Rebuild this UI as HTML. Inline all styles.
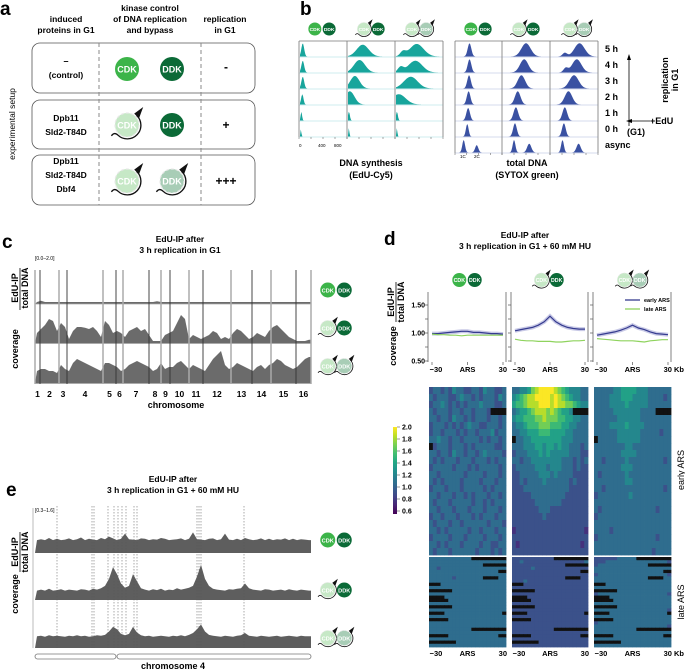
<!DOCTYPE html>
<html><head><meta charset="utf-8">
<style>
html,body{margin:0;padding:0;background:#fff;}
svg{display:block;font-family:"Liberation Sans",sans-serif;}
</style></head>
<body>
<svg id="fig" width="685" height="670" viewBox="0 0 685 670" xmlns="http://www.w3.org/2000/svg">
<g>
  <text x="0" y="15" font-size="19" font-weight="bold">a</text>
  <text x="66" y="22" font-size="8.5" font-weight="bold" text-anchor="middle">induced</text>
  <text x="66" y="33" font-size="8.5" font-weight="bold" text-anchor="middle">proteins in G1</text>
  <text x="150" y="11" font-size="8.5" font-weight="bold" text-anchor="middle">kinase control</text>
  <text x="150" y="22" font-size="8.5" font-weight="bold" text-anchor="middle">of DNA replication</text>
  <text x="150" y="33" font-size="8.5" font-weight="bold" text-anchor="middle">and bypass</text>
  <text x="225" y="22" font-size="8.5" font-weight="bold" text-anchor="middle">replication</text>
  <text x="225" y="33" font-size="8.5" font-weight="bold" text-anchor="middle">in G1</text>
  <text transform="translate(15,124) rotate(-90)" font-size="8.5" text-anchor="middle">experimental setup</text>
  <rect x="32" y="43" width="223" height="50" rx="8" fill="none" stroke="#555" stroke-width="0.8"/>
  <rect x="32" y="100" width="223" height="49" rx="8" fill="none" stroke="#555" stroke-width="0.8"/>
  <rect x="32" y="155" width="223" height="50" rx="8" fill="none" stroke="#555" stroke-width="0.8"/>
  <line x1="99" y1="43" x2="99" y2="205" stroke="#888" stroke-dasharray="4,3"/>
  <line x1="201" y1="43" x2="201" y2="205" stroke="#888" stroke-dasharray="4,3"/>
  <text x="66" y="64" font-size="9" font-weight="bold" text-anchor="middle">–</text>
  <text x="66" y="78" font-size="8.5" font-weight="bold" text-anchor="middle">(control)</text>
  <text x="66" y="121" font-size="8.5" font-weight="bold" text-anchor="middle">Dpb11</text>
  <text x="66" y="135" font-size="8.5" font-weight="bold" text-anchor="middle">Sld2-T84D</text>
  <text x="66" y="164" font-size="8.5" font-weight="bold" text-anchor="middle">Dpb11</text>
  <text x="66" y="178" font-size="8.5" font-weight="bold" text-anchor="middle">Sld2-T84D</text>
  <text x="66" y="192" font-size="8.5" font-weight="bold" text-anchor="middle">Dbf4</text>
  <text x="226" y="71" font-size="12" font-weight="bold" text-anchor="middle">-</text>
  <text x="226" y="129" font-size="12" font-weight="bold" text-anchor="middle">+</text>
  <text x="226" y="185" font-size="12" font-weight="bold" text-anchor="middle">+++</text>
</g>
<g id="icons"></g>
<g id="pb">
  <text x="300" y="15" font-size="19" font-weight="bold">b</text>
  <text x="371" y="166" font-size="9" font-weight="bold" text-anchor="middle">DNA synthesis</text>
  <text x="371" y="178" font-size="9" font-weight="bold" text-anchor="middle">(EdU-Cy5)</text>
  <text x="527" y="166" font-size="9" font-weight="bold" text-anchor="middle">total DNA</text>
  <text x="527" y="178" font-size="9" font-weight="bold" text-anchor="middle">(SYTOX green)</text>
  <text x="299" y="147" font-size="4.5">0</text>
  <text x="318" y="147" font-size="4.5">400</text>
  <text x="334" y="147" font-size="4.5">800</text>
  <text x="460" y="158" font-size="4.5">1C</text>
  <text x="474" y="158" font-size="4.5">2C</text>
  <line x1="629" y1="126" x2="629" y2="58" stroke="#000" stroke-width="0.8"/>
  <polygon points="629,54 627,60 631,60" fill="#000"/>
  <line x1="630" y1="121" x2="650" y2="121" stroke="#000" stroke-width="0.8"/>
  <polygon points="626,121 632,119 632,123" fill="#000"/>
  <text x="650" y="124" font-size="9" font-weight="bold">+EdU</text>
  <text x="627" y="135" font-size="9" font-weight="bold">(G1)</text>
  <text transform="translate(668,80) rotate(-90)" font-size="9" font-weight="bold" text-anchor="middle">replication</text>
  <text transform="translate(678,80) rotate(-90)" font-size="9" font-weight="bold" text-anchor="middle">in G1</text>
</g>
<g id="pc">
  <text x="2" y="248" font-size="19" font-weight="bold">c</text>
  <text x="180" y="242" font-size="8.5" font-weight="bold" text-anchor="middle">EdU-IP after</text>
  <text x="180" y="253" font-size="8.5" font-weight="bold" text-anchor="middle">3 h replication in G1</text>
  <text x="35" y="260" font-size="5">[0.0–2.0]</text>
  <text x="176" y="408" font-size="9" font-weight="bold" text-anchor="middle">chromosome</text>
  <text transform="translate(18,349) rotate(-90)" font-size="9" font-weight="bold" text-anchor="middle">coverage</text>
  <text transform="translate(18,288) rotate(-90)" font-size="9" font-weight="bold" text-anchor="middle">EdU-IP</text>
  <line x1="20" y1="268" x2="20" y2="310" stroke="#000" stroke-width="0.8"/>
  <text transform="translate(28,288) rotate(-90)" font-size="9" font-weight="bold" text-anchor="middle">total DNA</text>
</g>
<g id="pd">
  <text x="384" y="245" font-size="19" font-weight="bold">d</text>
  <text x="525" y="238" font-size="8.5" font-weight="bold" text-anchor="middle">EdU-IP after</text>
  <text x="525" y="249" font-size="8.5" font-weight="bold" text-anchor="middle">3 h replication in G1 + 60 mM HU</text>
  <text transform="translate(396,346) rotate(-90)" font-size="9" font-weight="bold" text-anchor="middle">coverage</text>
  <text transform="translate(394,302) rotate(-90)" font-size="9" font-weight="bold" text-anchor="middle">EdU-IP</text>
  <line x1="396" y1="282" x2="396" y2="322" stroke="#000" stroke-width="0.8"/>
  <text transform="translate(404,302) rotate(-90)" font-size="9" font-weight="bold" text-anchor="middle">total DNA</text>
  <text transform="translate(684,470) rotate(-90)" font-size="9" text-anchor="middle">early ARS</text>
  <text transform="translate(684,602) rotate(-90)" font-size="9" text-anchor="middle">late ARS</text>
</g>
<g id="pe">
  <text x="6" y="496" font-size="19" font-weight="bold">e</text>
  <text x="173" y="482" font-size="8.5" font-weight="bold" text-anchor="middle">EdU-IP after</text>
  <text x="173" y="493" font-size="8.5" font-weight="bold" text-anchor="middle">3 h replication in G1 + 60 mM HU</text>
  <text x="35" y="512" font-size="5">[0.3–1.6]</text>
  <text transform="translate(18,594) rotate(-90)" font-size="9" font-weight="bold" text-anchor="middle">coverage</text>
  <text transform="translate(18,552) rotate(-90)" font-size="9" font-weight="bold" text-anchor="middle">EdU-IP</text>
  <line x1="20" y1="532" x2="20" y2="572" stroke="#000" stroke-width="0.8"/>
  <text transform="translate(28,552) rotate(-90)" font-size="9" font-weight="bold" text-anchor="middle">total DNA</text>
  <rect x="35" y="654" width="81" height="5" rx="2.5" fill="none" stroke="#777" stroke-width="0.8"/>
  <rect x="117" y="654" width="194" height="5" rx="2.5" fill="none" stroke="#777" stroke-width="0.8"/>
  <text x="173" y="669" font-size="9" font-weight="bold" text-anchor="middle">chromosome 4</text>
</g>
</svg>
<script>
// ===== Data =====
const timeLabels = ["5 h","4 h","3 h","2 h","1 h","0 h","async"];
const eduPeaks = [
  [[[0.06,0.03,0.9]],[[0.06,0.03,0.8]],[[0.06,0.03,0.8]],[[0.05,0.025,0.7]],[[0.03,0.015,0.6]],[[0.02,0.01,0.5]]],
  [[[0.32,0.13,0.8]],[[0.25,0.12,0.85]],[[0.15,0.1,0.85]],[[0.04,0.1,0.9]],[[0.02,0.02,0.6]],[[0.02,0.01,0.6]]],
  [[[0.45,0.15,0.85],[0.15,0.06,0.3]],[[0.42,0.15,0.8],[0.1,0.06,0.35]],[[0.32,0.15,0.8]],[[0.06,0.15,0.7]],[[0.02,0.02,0.6]],[[0.02,0.01,0.6]]]
];
const sytoxPeaks = [
  [[[0.3,0.04,0.9]],[[0.3,0.04,0.9]],[[0.29,0.04,0.9]],[[0.28,0.04,0.9]],[[0.27,0.04,0.85]],[[0.25,0.03,0.85]],[[0.17,0.03,0.85],[0.46,0.035,0.5]]],
  [[[0.5,0.1,0.9]],[[0.46,0.09,0.9]],[[0.4,0.08,0.9]],[[0.32,0.06,0.9]],[[0.28,0.05,0.9]],[[0.26,0.04,0.9]],[[0.24,0.03,0.85],[0.57,0.045,0.6]]],
  [[[0.62,0.11,0.9],[0.3,0.05,0.25]],[[0.56,0.1,0.9],[0.32,0.05,0.3]],[[0.5,0.1,0.9]],[[0.38,0.08,0.9]],[[0.3,0.05,0.9]],[[0.28,0.04,0.9]],[[0.25,0.03,0.85],[0.6,0.045,0.6]]]
];
const cRow1 = [0.05,0.08,0.05,0.05,0.05,0.05,0.05,0.05,0.05,0.05,0.05,0.05,0.05,0.05,0.05,0.05,0.05,0.05,0.05,0.05,0.05,0.05,0.05,0.05,0.05,0.05,0.05,0.05,0.05,0.05,0.07,0.05,0.05,0.05,0.05,0.05,0.05,0.05,0.05,0.05,0.05,0.05,0.05,0.05,0.05,0.05,0.05,0.05,0.05,0.05,0.05,0.05,0.05,0.05,0.05,0.05,0.05,0.05,0.05,0.05,0.05,0.05,0.05,0.05,0.05,0.05,0.05,0.05,0.05];
const cRow2 = [0.25,0.35,0.45,0.6,0.55,0.3,0.5,0.4,0.1,0.3,0.4,0.4,0.38,0.35,0.4,0.3,0.15,0.55,0.45,0.25,0.3,0.25,0.15,0.3,0.35,0.4,0.3,0.35,0.2,0.05,0.05,0.05,0.2,0.25,0.3,0.5,0.7,0.6,0.1,0.2,0.15,0.1,0.15,0.2,0.3,0.25,0.1,0.15,0.1,0.25,0.35,0.3,0.2,0.1,0.15,0.25,0.2,0.15,0.3,0.4,0.45,0.35,0.25,0.15,0.1,0.05,0.05,0.05,0.08];
const cRow3 = [0.3,0.35,0.35,0.3,0.3,0.25,0.45,0.35,0.3,0.5,0.6,0.55,0.5,0.45,0.4,0.35,0.3,0.5,0.5,0.45,0.4,0.3,0.35,0.45,0.5,0.55,0.5,0.45,0.4,0.3,0.35,0.5,0.35,0.4,0.4,0.5,0.55,0.45,0.35,0.45,0.4,0.35,0.3,0.45,0.6,0.7,0.8,0.45,0.35,0.4,0.5,0.45,0.4,0.35,0.3,0.4,0.45,0.35,0.45,0.5,0.6,0.55,0.45,0.4,0.35,0.4,0.5,0.6,0.65];
const chromBounds = [35,40,59,67,103,116,123,149,161,170,189,203,231,252,271,296,311];
const chromNames = ["1","2","3","4","5","6","7","8","9","10","11","12","13","14","15","16"];
const profX = [-30,-25,-20,-15,-10,-5,0,5,10,15,20,25,30];
const earlyARS = [
  [0.99,0.99,1.0,1.01,1.02,1.03,1.03,1.01,1.01,1.0,0.99,0.99,0.98],
  [1.04,1.06,1.08,1.1,1.14,1.2,1.3,1.2,1.14,1.1,1.08,1.07,1.07],
  [0.96,0.98,1.0,1.02,1.05,1.09,1.14,1.09,1.06,1.02,0.99,0.98,0.97]
];
const lateARS = [
  [0.98,0.97,0.97,0.96,0.96,0.95,0.96,0.96,0.96,0.96,0.96,0.96,0.96],
  [0.89,0.87,0.86,0.86,0.85,0.85,0.85,0.84,0.84,0.85,0.86,0.86,0.87],
  [0.9,0.89,0.88,0.87,0.86,0.86,0.86,0.85,0.84,0.86,0.87,0.88,0.88]
];
const yTicks = [0.5,1.0,1.5];
const cbTicks = [2.0,1.8,1.6,1.4,1.2,1.0,0.8,0.6];
// Heatmaps: digit d -> 0.6 + d*0.155 ; x = missing (black)
const heatEarly = [
 ["23323243322332433223","32333223433232333243","23343232323334333223","3233323323323332xxxx","33233243323233323323","23332323234332233323","23323332323323334233","33433233233332323323","x2333233323233333223","33233243323323433332","32323332333233323233","23333323332323333323","33233333323333233323","32323333233332333233","23332333233333232333","33233323323233323323","32333233333233232333","33233323332333233323","23323332333232333233","32333233233333323332","33232333332332333233","23333233323333233323","33232333233332332233","32333233333323332323"],
 ["33445789999876544433","45678899998987654433","56678889998988776544","3455678887876554xxxx","45566677877766554433","34456667776665544333","33445556665555443333","x3344555555554443333","33344455455454433323","23334445454444433322","33233444444443332323","23333344434443332322","22333334443433332222","22323333433333323222","22233333333333322222","22222333333333222222","22222233333332222222","22222223332222222222","22222222322222222222","22222222222222222222","12222222222222222221","22222222222222222222","21222222222222222212","22222222222222222222"],
 ["33333445555444333333","33334445554444333323","33334444544444333333","3333344444443333xxxx","33333344444433333333","33334444544443333333","33333344444433333233","x3333344444433333333","33333333443333333333","33333334444333333333","33233333433333333323","33333334443333333333","32333333433333333333","33333333443333333333","33233333333333333323","23333333343333333333","33333333333333333333","32333333333333332333","23333333333333333333","33333333333333333333","33332333333333333333","23333333333333332333","33333333333333333333","33333333333333323333"]
];
const heatLate = [
 ["33333333333xxxxxxxxx","33333333333333333333","33333333333333xxxxxx","33233333333333333333","333333333333333333xx","33333333333333333333","33333323333333xxxx33","33333333333333333333","xxx33333333333333333","33333333333333333333","xxxxxx33333333333333","33333333333333333333","xxxx3333333333333333","xxxxx333333333333333","33333333333333333333","xxxxxx33333333333333","33333333333333333333","xxxx333333333333333x","33333333333333333333","xxxxx333333333333333","33333333333333333333","33333333333333333333","33333333333xxxxxxxxx","33333333333333333333","xxxxx3333333333333xx","33333333333333333333","xxxxxxx3333333333333","33333333333333333333"],
 ["22222222222xxxxxxxxx","22322222222222222223","22222222222222xxxxxx","22222322222222222222","222222222222222222xx","22222222222222222222","22222222222222xxxx22","22232222222222222222","xxx22222222222222222","22222222222222222222","xxxxxx22222222222222","22222222222222222222","xxxx2222222222222222","xxxxx222222222222222","22222222222222222222","xxxxxx22222222222222","22222222222222222222","xxxx222222222222222x","22222222222222222222","xxxxx222222222222222","22222222222222222222","22222222222222222222","22222222222xxxxxxxxx","22222222222222222222","xxxxx2222222222222xx","22222222222222222222","xxxxxxx2222222222222","22222222222222222222"],
 ["22222233333xxxxxxxxx","22233333333333333332","23333333333333xxxxxx","33333333333333333333","333333333333333333xx","23333333333333333332","33333333333333xxxx33","33333333333333333333","xxx33333333333333333","33333333333333333333","xxxxxx33333333333333","23333333333333333332","xxxx3333333333333333","xxxxx333333333333333","33333333333333333333","xxxxxx33333333333333","33333333333333333332","xxxx333333333333333x","33333333333333333333","xxxxx333333333333333","23333333333333333333","33333333333333333332","33333333333xxxxxxxxx","33333333333333333333","xxxxx3333333333333xx","33333333333333333333","xxxxxxx3333333333333","33333333333333333333"]
];
const eRow1 = [0.3,0.32,0.3,0.35,0.3,0.33,0.3,0.31,0.34,0.3,0.32,0.36,0.3,0.33,0.31,0.3,0.35,0.32,0.38,0.34,0.3,0.33,0.45,0.32,0.31,0.3,0.34,0.33,0.3,0.32,0.31,0.35,0.33,0.3,0.31,0.32,0.34,0.3,0.33,0.48,0.32,0.31,0.3,0.33,0.34,0.3,0.32,0.45,0.31,0.3,0.33,0.3,0.35,0.32,0.3,0.31,0.34,0.3,0.33,0.3,0.32,0.31,0.34,0.3,0.33,0.3,0.32,0.31,0.3];
const eRow2 = [0.2,0.22,0.2,0.24,0.2,0.21,0.23,0.2,0.22,0.21,0.2,0.23,0.22,0.2,0.24,0.22,0.25,0.3,0.45,0.7,0.55,0.35,0.26,0.3,0.55,0.4,0.25,0.22,0.2,0.23,0.21,0.24,0.2,0.22,0.21,0.25,0.22,0.24,0.26,0.3,0.5,0.75,0.45,0.3,0.24,0.22,0.21,0.2,0.23,0.22,0.24,0.25,0.35,0.25,0.22,0.21,0.2,0.23,0.22,0.2,0.21,0.22,0.2,0.23,0.21,0.2,0.22,0.21,0.2];
const eRow3 = [0.25,0.26,0.24,0.27,0.25,0.26,0.25,0.24,0.26,0.25,0.27,0.25,0.26,0.24,0.25,0.27,0.26,0.28,0.35,0.45,0.4,0.3,0.27,0.3,0.45,0.33,0.27,0.25,0.26,0.24,0.25,0.26,0.25,0.24,0.26,0.25,0.27,0.25,0.28,0.32,0.4,0.5,0.35,0.28,0.26,0.25,0.24,0.26,0.25,0.24,0.26,0.27,0.32,0.26,0.25,0.24,0.26,0.25,0.24,0.25,0.26,0.24,0.25,0.26,0.25,0.24,0.26,0.25,0.25];
const eOrigins = [57,92,94,108,114,118,122,126,134,137,197,199,201,244];

// ===== Helpers =====
const NS = "http://www.w3.org/2000/svg";
const svg = document.getElementById("fig");
function mk(tag, attrs, parent){
  const e = document.createElementNS(NS, tag);
  for (const k in attrs) e.setAttribute(k, attrs[k]);
  (parent||svg).appendChild(e);
  return e;
}
const iconsG = document.getElementById("icons");
function circleIcon(cx, cy, r, label, kind){
  const fills = {cdk:"#3cb449", ddk:"#0b6a37", cdkB:"#c6e8c6", ddkB:"#a8cdb6"};
  const g = mk("g", {}, iconsG);
  
  
  const bypass = kind.endsWith("B");
  mk("circle", {cx:cx, cy:cy, r:r, fill:fills[kind], stroke: bypass?"#e8e8e8":"none", "stroke-width": r/10, "stroke-dasharray": bypass? (r/4)+","+(r/6):"none"}, g);
  const t = mk("text", {x:cx, y:cy + r*0.3, "font-size": r*0.75, "font-weight":"bold", fill:"#fff", "text-anchor":"middle"}, g);
  t.textContent = label;
  if (bypass){
    const sx = cx - r*0.75, sy = cy + r*0.85;
    const ex = cx + r*0.8, ey = cy - r*0.8;
    mk("path", {d:`M${sx-r*0.55},${sy+r*0.05} q${r*0.25},${-r*0.35} ${r*0.55},${-r*0.05} A${r*1.12},${r*1.12} 0 1 0 ${ex},${ey}`, fill:"none", stroke:"#111", "stroke-width": Math.max(0.8,r/9)}, g);
    mk("polygon", {points:`${ex+r*0.55},${ey-r*0.7} ${ex-r*0.2},${ey-r*0.15} ${ex+r*0.2},${ey+r*0.25}`, fill:"#111"}, g);
  }
}
function pair(cx, cy, r, kindC, kindD){
  circleIcon(cx - r*1.1, cy, r, "CDK", kindC);
  circleIcon(cx + r*1.1, cy, r, "DDK", kindD);
}
circleIcon(127,69,12,"CDK","cdk"); circleIcon(172,69,12,"DDK","ddk");
circleIcon(127,125,12,"CDK","cdkB"); circleIcon(172,125,12,"DDK","ddk");
circleIcon(127,181,12,"CDK","cdkB"); circleIcon(172,181,12,"DDK","ddkB");
const kinds = [["cdk","ddk"],["cdkB","ddk"],["cdkB","ddkB"]];
[322,371,419].forEach((x,i)=>pair(x,29,6.5,kinds[i][0],kinds[i][1]));
[478,526,577].forEach((x,i)=>pair(x,29,6.5,kinds[i][0],kinds[i][1]));
[290,328,366].forEach((y,i)=>pair(336,y,7.5,kinds[i][0],kinds[i][1]));
[467,549,632].forEach((x,i)=>pair(x,280,7,kinds[i][0],kinds[i][1]));
[540,590,638].forEach((y,i)=>pair(336,y,7.5,kinds[i][0],kinds[i][1]));

// ===== Panel b =====
const pb = document.getElementById("pb");
function histPath(x0, w, yBase, h, peaks){
  let d = `M${x0},${yBase}`;
  const n = 60;
  for (let i=0;i<=n;i++){
    const f = i/n; let v = 0;
    peaks.forEach(p=>{ v += p[2]*Math.exp(-0.5*Math.pow((f-p[0])/p[1],2)); });
    v = Math.min(v,1);
    d += ` L${(x0+f*w).toFixed(2)},${(yBase - v*h).toFixed(2)}`;
  }
  return d + ` L${x0+w},${yBase} Z`;
}
function flowGroup(cols, top, rowH, data, color, sep, nameBase){
  const nRows = data[0].length;
  const g = mk("g", {}, pb);
  
  
  for (let c=0;c<cols.length-1;c++){
    const x0 = cols[c], w = cols[c+1]-cols[c];
    for (let r=0;r<nRows;r++){
      const yb = top + (r+1)*rowH;
      const p = mk("path", {d: histPath(x0+1, w-2, yb-0.5, rowH*0.92, data[c][r]), fill: color}, g);
      
      
      mk("line", {x1:x0, x2:x0+w, y1:yb, y2:yb, stroke:sep, "stroke-width":0.8}, g);
    }
    mk("line", {x1:x0, x2:x0, y1:top, y2:top+nRows*rowH, stroke:"#777", "stroke-width":0.8}, g);
  }
  const xe = cols[cols.length-1];
  mk("line", {x1:xe, x2:xe, y1:top, y2:top+nRows*rowH, stroke:"#777", "stroke-width":0.8}, g);
  mk("line", {x1:cols[0], x2:xe, y1:top, y2:top, stroke:"#777", "stroke-width":0.8}, g);
  for (let c=0;c<cols.length-1;c++){
    for (let k=0;k<=4;k++){
      const x = cols[c] + k*(cols[c+1]-cols[c])/4;
      mk("line", {x1:x, x2:x, y1:top+nRows*rowH, y2:top+nRows*rowH+2, stroke:"#555", "stroke-width":0.5}, g);
    }
  }
}
flowGroup([299,347,395,443], 41, 16, eduPeaks, "#17a59c", "#bfe6ea", "edu-flow");
flowGroup([455,502,550,598], 41, 16, sytoxPeaks, "#3a51a2", "#c9cfe6", "sytox-flow");
timeLabels.forEach((t,i)=>{
  const e = mk("text", {x:605, y:41+16*i+11, "font-size":9, "font-weight":"bold"}, pb);
  e.textContent = t;
});

// ===== Panel c =====
const pc = document.getElementById("pc");
function areaTrack(parent, vals, x0, x1, yBase, h, color, name){
  const bw = (x1-x0)/vals.length;
  let d = `M${x0},${yBase}`;
  vals.forEach((v,i)=>{
    const y = yBase - v*h;
    d += ` L${(x0+(i+0.5)*bw).toFixed(2)},${y.toFixed(2)}`;
  });
  d += ` L${x1},${(yBase - vals[vals.length-1]*h).toFixed(2)} L${x1},${yBase} Z`;
  const p = mk("path", {d:d, fill:color}, parent);
  
  
}
areaTrack(pc, cRow1, 35, 311, 304, 40, "#6b6b6b", "coverage-track-control");
areaTrack(pc, cRow2, 35, 311, 343, 40, "#6b6b6b", "coverage-track-cdk-bypass");
areaTrack(pc, cRow3, 35, 311, 383, 40, "#6b6b6b", "coverage-track-cdk-ddk-bypass");
mk("line", {x1:35,x2:311,y1:304,y2:304,stroke:"#aaa","stroke-width":0.8}, pc);
mk("line", {x1:35,x2:311,y1:343.5,y2:343.5,stroke:"#aaa","stroke-width":1}, pc);
mk("line", {x1:35,x2:311,y1:383.5,y2:383.5,stroke:"#aaa","stroke-width":1}, pc);
chromBounds.forEach((x,i)=>{
  mk("line", {x1:x, x2:x, y1:270, y2:384, stroke: i%2? "#333":"#aaa", "stroke-width": i%2?0.9:1.5}, pc);
});
chromNames.forEach((n,i)=>{
  const cx = (chromBounds[i]+chromBounds[i+1])/2;
  const t = mk("text", {x:cx, y:397, "font-size":8.5, "font-weight":"bold", "text-anchor":"middle"}, pc);
  t.textContent = n;
});

// ===== Panel d =====
const pd = document.getElementById("pd");
const dPanels = [[429,506],[512,588],[594,671]];
const yScale = v => 333 - (v-1.0)*56;
const xScale = (i, x0, x1) => x0 + (profX[i]-profX[0])/(profX[profX.length-1]-profX[0])*(x1-x0);
yTicks.forEach(v=>{
  const t = mk("text", {x:425, y:yScale(v)+2.5, "font-size":7, "font-weight":"bold", "text-anchor":"end"}, pd);
  t.textContent = v.toFixed(2);
});
dPanels.forEach(([x0,x1],pi)=>{
  mk("line", {x1:x0-1, x2:x0-1, y1:292, y2:362, stroke:"#aaa", "stroke-width":1.5}, pd);
  mk("line", {x1:x1, x2:x1, y1:292, y2:362, stroke:"#aaa", "stroke-width":1.5}, pd);
  [0.5,0.75,1.0,1.25,1.5].forEach(v=> mk("line", {x1:x0-4,x2:x0-1,y1:yScale(v),y2:yScale(v),stroke:"#555","stroke-width":0.7}, pd));
  [0,6,12].forEach(i=> mk("line", {x1:xScale(i,x0+3,x1-3),x2:xScale(i,x0+3,x1-3),y1:362,y2:365,stroke:"#555","stroke-width":0.7}, pd));
  const mkLine = (arr, col, w, name)=>{
    const pts = arr.map((v,i)=> `${xScale(i,x0+3,x1-3).toFixed(1)},${yScale(v).toFixed(1)}`).join(" ");
    const pl = mk("polyline", {points:pts, fill:"none", stroke:col, "stroke-width":w}, pd);
    
    
  };
  mkLine(earlyARS[pi], "#c8c9e6", 4, "early-ars-band");
  mkLine(earlyARS[pi], "#353b8f", 1.2, "early-ars-line");
  mkLine(lateARS[pi], "#8fd35e", 1.2, "late-ars-line");
  const lab = [["−30",x0+7,"middle"],["ARS",(x0+x1)/2,"middle"],[pi===2?"30 Kb":"30",pi===2?684:x1+1,"end"]];
  [372,656].forEach(yy=> lab.forEach(l=>{
    const t = mk("text", {x:l[1], y:yy, "font-size":7.5, "font-weight":"bold", "text-anchor":l[2]}, pd);
    t.textContent = l[0];
  }));
});
mk("line", {x1:625,x2:640,y1:300,y2:300,stroke:"#353b8f","stroke-width":1.3}, pd);
mk("line", {x1:625,x2:640,y1:309,y2:309,stroke:"#8fd35e","stroke-width":1.3}, pd);
(()=>{const t=mk("text",{x:644,y:302,"font-size":5.5,"font-weight":"bold"},pd);t.textContent="early ARS";

const u=mk("text",{x:644,y:311,"font-size":5.5,"font-weight":"bold"},pd);u.textContent="late ARS";
})();

const vstops = [[0.267,0.005,0.329],[0.283,0.141,0.458],[0.254,0.265,0.53],[0.207,0.372,0.553],[0.164,0.471,0.558],[0.128,0.567,0.551],[0.135,0.659,0.518],[0.267,0.749,0.441],[0.478,0.821,0.318],[0.741,0.873,0.15],[0.993,0.906,0.144]];
function viridis(t){
  t = Math.max(0,Math.min(1,t));
  const s = t*(vstops.length-1), i = Math.min(Math.floor(s), vstops.length-2), f = s-i;
  const c = vstops[i].map((a,k)=> Math.round(255*(a+(vstops[i+1][k]-a)*f)));
  return `rgb(${c[0]},${c[1]},${c[2]})`;
}
const digitVal = ch => 0.6 + parseInt(ch,10)*0.155;
const valColor = v => viridis((v-0.55)/(2.0-0.55));
function heat(rows, x0, x1, y0, y1, name){
  const g = mk("g", {}, pd);
  
  
  const rh = (y1-y0)/rows.length, cw = (x1-x0)/rows[0].length;
  rows.forEach((row,r)=>{
    for (let c=0;c<row.length;c++){
      const ch = row[c];
      const fill = ch==="x" ? "#111" : valColor(digitVal(ch));
      mk("rect", {x:(x0+c*cw).toFixed(2), y:(y0+r*rh).toFixed(2), width:(cw+0.4).toFixed(2), height:(rh+0.4).toFixed(2), fill:fill}, g);
    }
  });
}
dPanels.forEach(([x0,x1],pi)=>{
  heat(heatEarly[pi], x0, x1, 387, 555, "heatmap-early-"+(pi+1));
  heat(heatLate[pi], x0, x1, 557, 647, "heatmap-late-"+(pi+1));
});
(()=>{
  const defs = mk("defs", {}, pd);
  const lg = mk("linearGradient", {id:"cbg", x1:0, y1:1, x2:0, y2:0}, defs);
  for (let k=0;k<=10;k++) mk("stop", {offset: k/10, "stop-color": viridis(k/10)}, lg);
  const cb = mk("rect", {x:393, y:427, width:4, height:87, fill:"url(#cbg)"}, pd);
  
  
  cbTicks.forEach(v=>{
    const y = 427 + (2.0 - v)*60;
    mk("line", {x1:397,x2:400,y1:y,y2:y,stroke:"#555","stroke-width":0.6}, pd);
    const t = mk("text", {x:402, y:y+2.5, "font-size":7, "font-weight":"bold"}, pd);
    t.textContent = v.toFixed(1);
  });
})();

// ===== Panel e =====
const pe = document.getElementById("pe");
areaTrack(pe, eRow1, 35, 311, 553, 43, "#5e5e5e", "chr4-track-control");
areaTrack(pe, eRow2, 35, 311, 600, 47, "#5e5e5e", "chr4-track-cdk-bypass");
areaTrack(pe, eRow3, 35, 311, 648, 47, "#5e5e5e", "chr4-track-cdk-ddk-bypass");
mk("line", {x1:33,x2:33,y1:508,y2:648,stroke:"#aaa","stroke-width":0.8}, pe);
eOrigins.forEach(x=>{
  const l = mk("line", {x1:x,x2:x,y1:506,y2:648,stroke:"#555","stroke-width":0.5,"stroke-dasharray":"1.5,1.5"}, pe);
  
  
});
</script>
</body></html>
